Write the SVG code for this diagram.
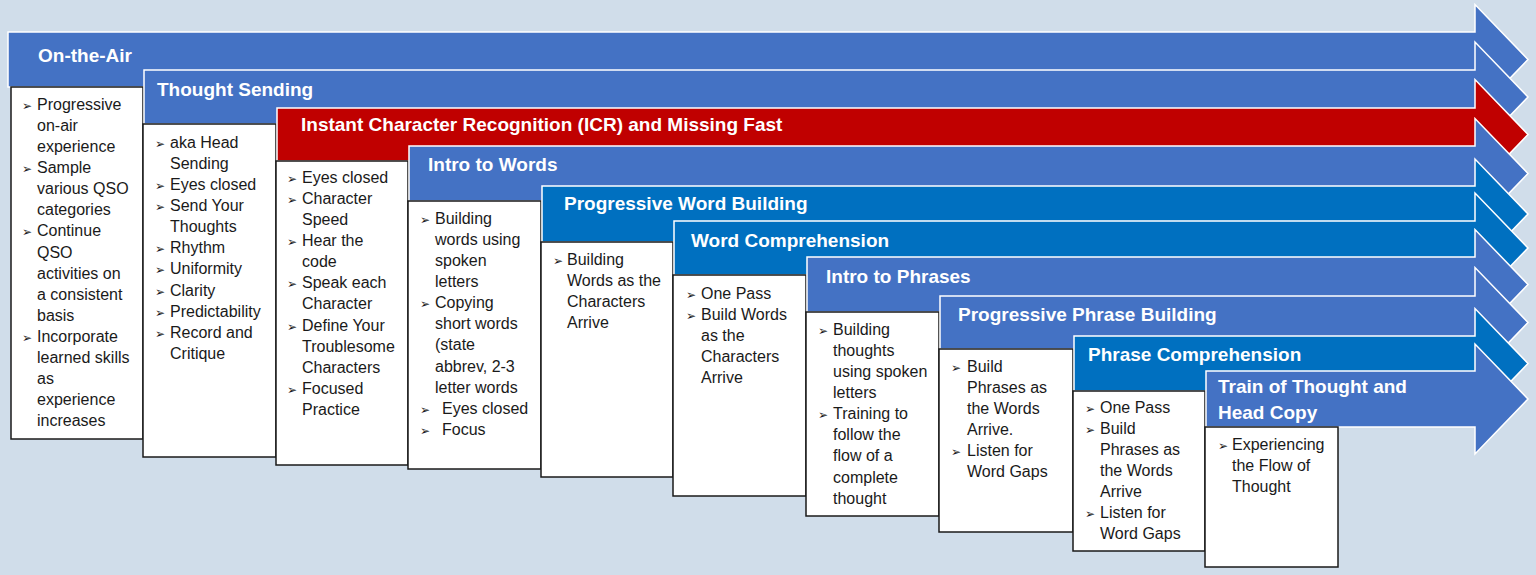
<svg xmlns="http://www.w3.org/2000/svg" width="1536" height="575" viewBox="0 0 1536 575">
<style>
.bg{fill:#D0DDEA}
.arw{stroke:#FFFFFF;stroke-width:1.5;stroke-linejoin:miter}
.lb{fill:#4472C4}
.db{fill:#0070C0}
.rd{fill:#C00000}
.box{fill:#FFFFFF;stroke:#1A1A1A;stroke-width:1.5}
.ttl{font-family:"Liberation Sans",Arial,sans-serif;font-weight:bold;font-size:19px;fill:#FFFFFF}
.txt{font-family:"Liberation Sans",Arial,sans-serif;font-size:16px;fill:#1A1A1A}
.bul{font-family:"DejaVu Sans",sans-serif;font-size:12px;fill:#1A1A1A}
</style>
<rect class="bg" x="0" y="0" width="1536" height="575"/>
<g id="connectors"/>

<g id="n1-on-the-air">
<polygon class="arw lb" points="8,32 1475,32 1475,4.5 1528,59.5 1475,114.5 1475,87 8,87"/>
<rect class="box" x="11" y="87" width="132" height="352"/>
<text class="ttl" x="38" y="62">On-the-Air</text>
<g class="bul"><text x="22" y="110">➢</text><text x="22" y="173.2">➢</text><text x="22" y="236.4">➢</text><text x="22" y="341.8">➢</text></g>
<g class="txt">
<text x="37" y="110">Progressive</text><text x="37" y="131.1">on-air</text><text x="37" y="152.1">experience</text>
<text x="37" y="173.2">Sample</text><text x="37" y="194.3">various QSO</text><text x="37" y="215.4">categories</text>
<text x="37" y="236.4">Continue</text><text x="37" y="257.5">QSO</text><text x="37" y="278.6">activities on</text><text x="37" y="299.6">a consistent</text><text x="37" y="320.7">basis</text>
<text x="37" y="341.8">Incorporate</text><text x="37" y="362.8">learned skills</text><text x="37" y="383.9">as</text><text x="37" y="405">experience</text><text x="37" y="426">increases</text>
</g>
</g>

<g id="n2-thought-sending">
<polygon class="arw lb" points="144,70 1475,70 1475,42 1528,97 1475,152 1475,124 144,124"/>
<rect class="box" x="143" y="124" width="133" height="333"/>
<text class="ttl" x="157" y="96">Thought Sending</text>
<g class="bul"><text x="155" y="148">➢</text><text x="155" y="190.1">➢</text><text x="155" y="211.2">➢</text><text x="155" y="253.4">➢</text><text x="155" y="274.4">➢</text><text x="155" y="295.5">➢</text><text x="155" y="316.6">➢</text><text x="155" y="337.6">➢</text></g>
<g class="txt">
<text x="170" y="148">aka Head</text><text x="170" y="169.1">Sending</text><text x="170" y="190.1">Eyes closed</text>
<text x="170" y="211.2">Send Your</text><text x="170" y="232.3">Thoughts</text><text x="170" y="253.4">Rhythm</text>
<text x="170" y="274.4">Uniformity</text><text x="170" y="295.5">Clarity</text><text x="170" y="316.6">Predictability</text>
<text x="170" y="337.6">Record and</text><text x="170" y="358.7">Critique</text>
</g>
</g>

<g id="n3-icr">
<polygon class="arw rd" points="277,108 1475,108 1475,79.5 1528,134.5 1475,189.5 1475,161 277,161"/>
<rect class="box" x="276" y="161" width="132" height="304"/>
<text class="ttl" x="301" y="131">Instant Character Recognition (ICR) and Missing Fast</text>
<g class="bul"><text x="287" y="183">➢</text><text x="287" y="204.1">➢</text><text x="287" y="246.2">➢</text><text x="287" y="288.4">➢</text><text x="287" y="330.5">➢</text><text x="287" y="393.8">➢</text></g>
<g class="txt">
<text x="302" y="183">Eyes closed</text><text x="302" y="204.1">Character</text><text x="302" y="225.1">Speed</text>
<text x="302" y="246.2">Hear the</text><text x="302" y="267.3">code</text><text x="302" y="288.4">Speak each</text>
<text x="302" y="309.4">Character</text><text x="302" y="330.5">Define Your</text><text x="302" y="351.6">Troublesome</text>
<text x="302" y="372.6">Characters</text><text x="302" y="393.7">Focused</text><text x="302" y="414.8">Practice</text>
</g>
</g>

<g id="n4-intro-to-words">
<polygon class="arw lb" points="409,146 1475,146 1475,118.5 1528,173.5 1475,228.5 1475,201 409,201"/>
<rect class="box" x="408" y="201" width="133" height="268"/>
<text class="ttl" x="428" y="171">Intro to Words</text>
<g class="bul"><text x="420" y="224">➢</text><text x="420" y="308.3">➢</text><text x="420" y="413.6">➢</text><text x="420" y="434.7">➢</text></g>
<g class="txt">
<text x="435" y="224">Building</text><text x="435" y="245.1">words using</text><text x="435" y="266.1">spoken</text>
<text x="435" y="287.2">letters</text><text x="435" y="308.3">Copying</text><text x="435" y="329.4">short words</text>
<text x="435" y="350.4">(state</text><text x="435" y="371.5">abbrev, 2-3</text><text x="435" y="392.6">letter words</text>
<text x="442" y="413.6">Eyes closed</text><text x="442" y="434.7">Focus</text>
</g>
</g>

<g id="n5-progressive-word-building">
<polygon class="arw db" points="542,186 1475,186 1475,159 1528,214 1475,269 1475,242 542,242"/>
<rect class="box" x="541" y="242" width="132" height="235"/>
<text class="ttl" x="564" y="210">Progressive Word Building</text>
<g class="bul"><text x="553" y="265">➢</text></g>
<g class="txt">
<text x="567" y="265">Building</text><text x="567" y="286.1">Words as the</text><text x="567" y="307.1">Characters</text><text x="567" y="328.2">Arrive</text>
</g>
</g>

<g id="n6-word-comprehension">
<polygon class="arw db" points="674,221 1475,221 1475,193 1528,248 1475,303 1475,275 674,275"/>
<rect class="box" x="673" y="275" width="133" height="221"/>
<text class="ttl" x="691" y="247">Word Comprehension</text>
<g class="bul"><text x="686" y="299">➢</text><text x="686" y="320.1">➢</text></g>
<g class="txt">
<text x="701" y="299">One Pass</text><text x="701" y="320.1">Build Words</text><text x="701" y="341.1">as the</text><text x="701" y="362.2">Characters</text><text x="701" y="383.3">Arrive</text>
</g>
</g>

<g id="n7-intro-to-phrases">
<polygon class="arw lb" points="807,257 1475,257 1475,229.5 1528,284.5 1475,339.5 1475,312 807,312"/>
<rect class="box" x="806" y="312" width="133" height="204"/>
<text class="ttl" x="826" y="283">Intro to Phrases</text>
<g class="bul"><text x="818" y="335">➢</text><text x="818" y="419.3">➢</text></g>
<g class="txt">
<text x="833" y="335">Building</text><text x="833" y="356.1">thoughts</text><text x="833" y="377.1">using spoken</text>
<text x="833" y="398.2">letters</text><text x="833" y="419.3">Training to</text><text x="833" y="440.4">follow the</text>
<text x="833" y="461.4">flow of a</text><text x="833" y="482.5">complete</text><text x="833" y="503.6">thought</text>
</g>
</g>

<g id="n8-progressive-phrase-building">
<polygon class="arw lb" points="940,296 1475,296 1475,267.5 1528,322.5 1475,377.5 1475,349 940,349"/>
<rect class="box" x="939" y="349" width="134" height="183"/>
<text class="ttl" x="958" y="321">Progressive Phrase Building</text>
<g class="bul"><text x="951" y="372">➢</text><text x="951" y="456.3">➢</text></g>
<g class="txt">
<text x="967" y="372">Build</text><text x="967" y="393.1">Phrases as</text><text x="967" y="414.1">the Words</text>
<text x="967" y="435.2">Arrive.</text><text x="967" y="456.3">Listen for</text><text x="967" y="477.4">Word Gaps</text>
</g>
</g>

<g id="n9-phrase-comprehension">
<polygon class="arw db" points="1074,336 1475,336 1475,308.5 1528,363.5 1475,418.5 1475,391 1074,391"/>
<rect class="box" x="1073" y="391" width="132" height="160"/>
<text class="ttl" x="1088" y="361">Phrase Comprehension</text>
<g class="bul"><text x="1085" y="413">➢</text><text x="1085" y="434.1">➢</text><text x="1085" y="518.4">➢</text></g>
<g class="txt">
<text x="1100" y="413">One Pass</text><text x="1100" y="434.1">Build</text><text x="1100" y="455.1">Phrases as</text>
<text x="1100" y="476.2">the Words</text><text x="1100" y="497.3">Arrive</text><text x="1100" y="518.4">Listen for</text><text x="1100" y="539.4">Word Gaps</text>
</g>
</g>

<g id="n10-train-of-thought">
<polygon class="arw lb" points="1206,371 1475,371 1475,344 1528,399 1475,454 1475,427 1206,427"/>
<rect class="box" x="1205" y="427" width="133" height="140"/>
<text class="ttl" x="1218" y="393">Train of Thought and</text>
<text class="ttl" x="1218" y="419">Head Copy</text>
<g class="bul"><text x="1218" y="450">➢</text></g>
<g class="txt">
<text x="1232" y="450">Experiencing</text><text x="1232" y="471.1">the Flow of</text><text x="1232" y="492.1">Thought</text>
</g>
</g>
</svg>
